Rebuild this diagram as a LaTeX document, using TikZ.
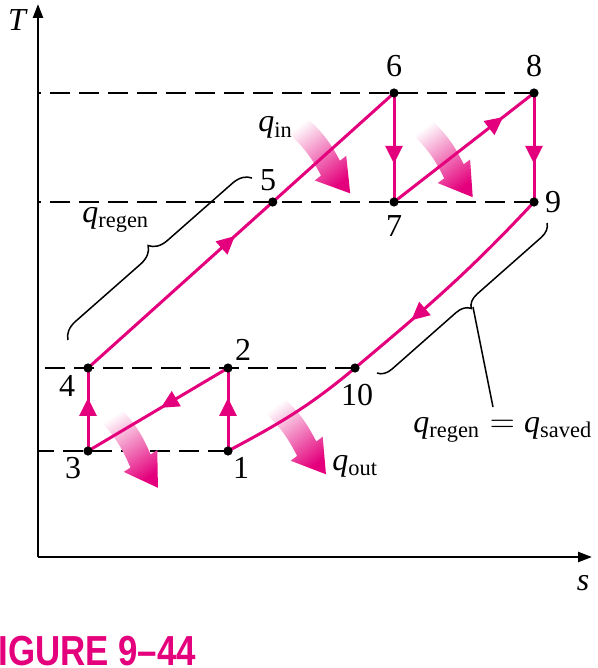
\documentclass[tikz,border=0pt]{standalone}
\usepackage{fontspec}
\setmainfont{Liberation Serif}
\newfontfamily\capfont{Liberation Sans}
\usetikzlibrary{%
	calc,%
	arrows.meta,%
	decorations.markings,%
	decorations.pathreplacing
}
\definecolor{cycle-magenta}{RGB}{228,0,124}

% shaded heat arrow: tail point, direction
\newcommand{\heatarrow}[2]{%
	\pgfmathsetmacro{\heatang}{#2-90}
	\begin{scope}[shift={#1}, rotate=#2]
		\shade[top color=cycle-magenta, bottom color=white, shading angle=\heatang]
			(0,-12) to[bend left=10] (56,-12) -- (56,-20) -- (88,0)
			-- (56,20) -- (56,12) to[bend right=10] (0,12) -- cycle;
	\end{scope}}

\begin{document}
\begin{tikzpicture}[x=0.5pt, y=0.5pt,
		every node/.style={font=\fontsize{16}{19}\selectfont, inner sep=0pt},
		axis/.style={line width=1.2pt, -{Triangle[length=7pt,width=5pt]}},
		level/.style={line width=1pt, dash pattern=on 10pt off 4.5pt},
		dot/.style={circle, fill=black, minimum size=4.6pt},
		flowline/.style={cycle-magenta, line width=1.5pt, postaction={decorate},
			decoration={markings,
				mark=at position #1 with {\arrow{Triangle[length=9pt,width=8.5pt]}}}},
		curly/.style={line width=0.75pt, decorate,
			decoration={brace, amplitude=#1}}
	]
	\useasboundingbox (0,0) rectangle (598,-668);

	% Axes
	\coordinate (org) at (38,-557);
	\coordinate (ytop) at (38,-4);
	\coordinate (xend) at (592,-557);
	\draw[axis] (org) -- (ytop);
	\draw[axis] (org) -- (xend);
	\node (ylab) at (18,-20) {\textit{T}};
	\node (xlab) at (583,-583) {\textit{s}};

	% State points
	\coordinate (p1) at (228,-451);
	\coordinate (p2) at (228,-368);
	\coordinate (p3) at (88,-451);
	\coordinate (p4) at (88,-368);
	\coordinate (p6) at (394,-93);
	\coordinate (p5) at ($(p4)!0.6036!(p6)$);
	\coordinate (p7) at (394,-202);
	\coordinate (p8) at (534,-93);
	\coordinate (p9) at (534,-202);
	\coordinate (p10) at (355,-368);

	% Temperature levels
	\draw[level] (p8) -- (p8 -| org);
	\draw[level] (p9) -- (p9 -| org);
	\draw[level] (p10) -- (p10 -| org);
	\draw[level] (p1) -- (p1 -| org);

	% Heat arrows
	\heatarrow{(296,-124)}{-52}
	\heatarrow{(421,-126)}{-54}
	\heatarrow{(110,-414)}{-57}
	\heatarrow{(273,-404)}{-53}

	% Cycle, arrowheads along the sides
	\draw[flowline=0.64] (p1) -- (p2);
	\draw[flowline=0.48] (p2) -- (p3);
	\draw[flowline=0.64] (p3) -- (p4);
	\draw[flowline=0.48] (p4) -- (p6);
	\draw[flowline=0.65] (p6) -- (p7);
	\draw[flowline=0.78] (p7) -- (p8);
	\draw[flowline=0.65] (p8) -- (p9);
	\draw[flowline=0.43] (p9) to[out=227,in=40] (p10) to[out=220,in=28] (p1);

	% Vertices
	\foreach \i in {1,...,10}
		\node[dot] (d\i) at (p\i) {};

	\node (n1) at (241,-468) {1};
	\node (n2) at (243,-350) {2};
	\node (n3) at (73,-468) {3};
	\node (n4) at (67,-386) {4};
	\node (n5) at (268,-180) {5};
	\node (n6) at (394,-66) {6};
	\node (n7) at (394,-226) {7};
	\node (n8) at (534,-66) {8};
	\node (n9) at (553,-202) {9};
	\node (n10) at (357,-395) {10};

	% Braces
	\coordinate (rg1) at (68,-340);
	\coordinate (rg2) at (252,-178);
	\coordinate (rs1) at (547,-223);
	\coordinate (rs2) at (377,-373);
	\coordinate (cusp) at (473,-307);
	\coordinate (rtail) at (493,-407);
	\draw[curly=9pt] (rg1) -- (rg2);
	\draw[curly=7pt] (rs1) -- (rs2);
	\draw[line width=0.75pt] (cusp) -- (rtail);

	% Heat labels
	\node[anchor=base west] (qin) at (258,-132) {$\mathit{q}_{\mathrm{in}}$};
	\node[anchor=base west] (qreg) at (82,-222) {$\mathit{q}_{\mathrm{regen}}$};
	\node[anchor=base west] (qout) at (332,-470) {$\mathit{q}_{\mathrm{out}}$};
	\node[anchor=base west] (qsave) at (413,-432) {$\mathit{q}_{\mathrm{regen}} = \mathit{q}_{\mathrm{saved}}$};

	% Caption
	\node[anchor=base west, text=cycle-magenta, xscale=0.83,
		font=\capfont\bfseries\fontsize{21}{24}\selectfont] (fig) at (-2,-665) {IGURE 9–44};
\end{tikzpicture}
\end{document}
